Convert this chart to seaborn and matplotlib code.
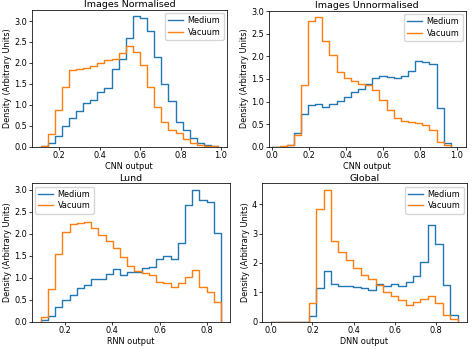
import numpy as np
import pandas as pd
import matplotlib
matplotlib.use("Agg")
import matplotlib.pyplot as plt
import seaborn as sns

# ---- data (bin heights) ----
titles = ["Images Normalised", "Images Unnormalised", "Lund", "Global"]
xlabels = ["CNN output", "CNN output", "RNN output", "DNN output"]
series_names = ["Medium", "Vacuum"]

# bin ranges (lo, hi) and number of bins per panel
bin_ranges = [(0.107, 0.986), (0.001, 0.968), (0.100, 0.8575), (0.000, 0.907)]
n_bins = 25

medium1 = [0.02, 0.08, 0.25, 0.50, 0.68, 0.86, 1.04, 1.12, 1.31, 1.40, 1.86, 2.10, 2.60,
           3.12, 3.08, 2.76, 2.15, 1.50, 1.10, 0.60, 0.40, 0.20, 0.10, 0.05, 0.02]
vacuum1 = [0.02, 0.30, 0.88, 1.42, 1.83, 1.86, 1.89, 1.92, 1.99, 2.07, 2.10, 2.24, 2.40,
           2.25, 1.95, 1.43, 0.95, 0.60, 0.39, 0.32, 0.18, 0.10, 0.05, 0.02, 0.01]

medium2 = [0.00, 0.00, 0.04, 0.31, 0.72, 0.93, 0.94, 0.88, 0.95, 1.02, 1.10, 1.20, 1.27,
           1.38, 1.53, 1.57, 1.55, 1.53, 1.57, 1.68, 1.90, 1.88, 1.83, 0.85, 0.08]
vacuum2 = [0.00, 0.01, 0.04, 0.26, 1.37, 2.78, 2.87, 2.33, 2.03, 1.66, 1.52, 1.45, 1.38,
           1.37, 1.25, 1.04, 0.82, 0.64, 0.57, 0.55, 0.52, 0.47, 0.37, 0.11, 0.03]

medium3 = [0.03, 0.13, 0.34, 0.50, 0.61, 0.77, 0.84, 0.97, 0.97, 1.09, 1.20, 1.07, 1.14,
           1.12, 1.22, 1.24, 1.42, 1.49, 1.42, 1.80, 2.66, 3.00, 2.78, 2.72, 2.02]
vacuum3 = [0.10, 0.74, 1.55, 2.04, 2.23, 2.24, 2.28, 2.14, 1.97, 1.83, 1.68, 1.47, 1.27,
           1.15, 1.11, 1.07, 0.90, 0.88, 0.80, 0.88, 1.02, 1.17, 0.80, 0.67, 0.45]

medium4 = [0.00, 0.00, 0.00, 0.00, 0.00, 0.18, 1.15, 1.72, 1.30, 1.20, 1.20, 1.17, 1.15,
           1.08, 1.28, 1.23, 1.29, 1.21, 1.35, 1.55, 2.03, 3.28, 2.64, 1.26, 0.23]
vacuum4 = [0.00, 0.00, 0.00, 0.00, 0.00, 0.64, 3.83, 4.49, 2.76, 2.38, 2.09, 1.83, 1.59,
           1.46, 1.25, 1.02, 0.86, 0.75, 0.57, 0.67, 0.78, 0.89, 0.65, 0.23, 0.08]

panels = [(medium1, vacuum1), (medium2, vacuum2), (medium3, vacuum3), (medium4, vacuum4)]
legend_locs = ["upper right", "upper right", "upper left", "upper right"]
xlims = [None, (-0.02, 1.05), None, None]

colors = ["#1f77b4", "#ff7f0e"]

# ---- layout ----
W, H = 474, 349
fig = plt.figure(figsize=(W / 100, H / 100), dpi=100)
# axes boxes in pixel coords: (left, top, right, bottom)
boxes = [(31.7, 9.5, 227.0, 146.7), (268.5, 10.5, 466.0, 146.7),
         (31.7, 183.3, 230.0, 321.7), (262.0, 183.3, 467.0, 321.7)]

fs = 5.9
plt.rcParams.update({
    "font.family": "DejaVu Sans",
    "xtick.labelsize": fs, "ytick.labelsize": fs,
    "xtick.major.size": 2.2, "ytick.major.size": 2.2,
    "xtick.major.pad": 1.2, "ytick.major.pad": 1.2,
    "xtick.major.width": 0.55, "ytick.major.width": 0.55,
    "axes.linewidth": 0.55,
})

for i, ((med, vac), box) in enumerate(zip(panels, boxes)):
    l, t, r, b = box
    ax = fig.add_axes([l / W, 1 - b / H, (r - l) / W, (b - t) / H])
    lo, hi = bin_ranges[i]
    edges = np.linspace(lo, hi, n_bins + 1)
    centers = 0.5 * (edges[:-1] + edges[1:])
    eps = 1e-6
    full_edges = [float(v) for v in np.concatenate([[lo - eps], edges, [hi + eps]])]
    for name, vals, col in zip(series_names, (med, vac), colors):
        df = pd.DataFrame({"x": centers, "w": vals})
        sns.histplot(data=df, x="x", weights="w", bins=full_edges, stat="count",
                     element="step", fill=False, color=col, linewidth=1.0,
                     label=name, ax=ax)
    ymax = max(max(med), max(vac))
    ax.set_ylim(0, ymax * 1.05)
    if xlims[i] is not None:
        ax.set_xlim(*xlims[i])
    else:
        span = hi - lo
        ax.set_xlim(lo - 0.05 * span, hi + 0.05 * span)
    ax.set_title(titles[i], fontsize=6.8, pad=1.8)
    ax.set_xlabel(xlabels[i], fontsize=fs, labelpad=1.0)
    ax.set_ylabel("Density (Arbitrary Units)", fontsize=fs, labelpad=1.5)
    ax.legend(loc=legend_locs[i], fontsize=fs, handlelength=1.75,
              borderpad=0.4, labelspacing=0.3, handletextpad=0.6,
              borderaxespad=0.4, framealpha=0.8, edgecolor="#cccccc")

fig.savefig("out.png", dpi=100)
